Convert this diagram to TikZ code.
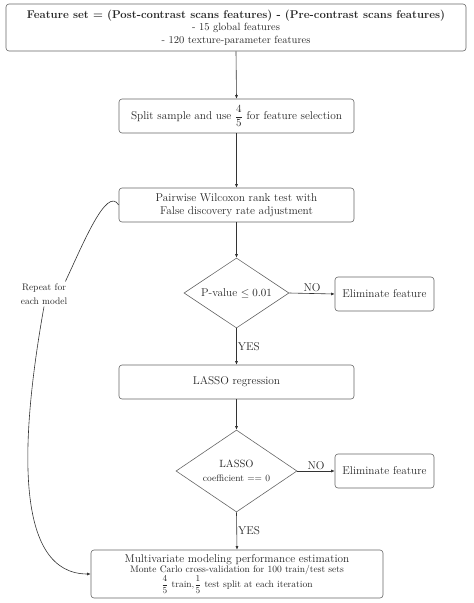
\documentclass[tikz,border=0pt]{standalone}
\usepackage{amsmath}
\usetikzlibrary{shapes.geometric,arrows.meta}
\begin{document}
\begin{tikzpicture}[x=1pt,y=-1pt,
  every node/.style={font=\fontsize{11.3}{13.5}\selectfont, text=black!85},
  box/.style={draw=black!60, line width=0.6pt, rounded corners=3pt, align=center, inner sep=0pt},
  dia/.style={draw=black!60, line width=0.6pt, diamond, aspect=1.5, inner sep=0pt, align=center},
  arr/.style={draw=black!80, line width=0.6pt, -{Latex[length=3.5pt,width=3pt]}},
  lbl/.style={inner sep=1pt}]
\useasboundingbox (0,0) rectangle (474,603);
\node[box, minimum width=460pt, minimum height=47pt] (top) at (236,27.5)
  {\textbf{Feature set = (Post-contrast scans features) - (Pre-contrast scans features)}\\[-1pt]
   {\fontsize{10.5}{12.5}\selectfont - 15 global features}\\[-1pt]
   {\fontsize{10.5}{12.5}\selectfont - 120 texture-parameter features}};
\node[box, minimum width=235pt, minimum height=34pt] (split) at (236.5,116)
  {Split sample and use $\dfrac{4}{5}$ for feature selection};
\node[box, minimum width=235pt, minimum height=34pt] (pair) at (236.5,205)
  {Pairwise Wilcoxon rank test with\\False discovery rate adjustment};
\node[dia, minimum width=105pt, minimum height=70pt] (d1) at (236.5,293)
  {P-value $\leq 0.01$};
\node[box, minimum width=99pt, minimum height=34pt] (e1) at (384.5,294) {Eliminate feature};
\node[box, minimum width=235pt, minimum height=34pt] (lasso) at (236.5,382) {LASSO regression};
\node[dia, minimum width=121pt, minimum height=82pt] (d2) at (236.5,471)
  {\fontsize{10.5}{12.5}\selectfont LASSO\\[1pt]{\fontsize{9.5}{11}\selectfont coefficient == 0}};
\node[box, minimum width=99pt, minimum height=34pt] (e2) at (384.5,471) {Eliminate feature};
\node[box, minimum width=292pt, minimum height=48pt] (multi) at (237,574)
  {Multivariate modeling performance estimation\\[-3pt]
   {\fontsize{9.5}{10}\selectfont Monte Carlo cross-validation for 100 train/test sets}\\
   {\fontsize{9.5}{10}\selectfont $\dfrac{4}{5}$ train,$\dfrac{1}{5}$ test split at each iteration}};
\node[align=center, font=\fontsize{9.5}{14}\selectfont, inner sep=2pt] (rep) at (44,294) {Repeat for\\each model};
\draw[arr] (top.south) -- (split.north);
\draw[arr] (split.south) -- (pair.north);
\draw[arr] (pair.south) -- (d1.north);
\draw[arr] (d1.east) -- node[lbl, above] {NO} (e1.west);
\draw[arr] (d1.south) -- node[lbl, right] {YES} (lasso.north);
\draw[arr] (lasso.south) -- (d2.north);
\draw[arr] (d2.east) -- node[lbl, above] {NO} (e2.west);
\draw[arr] (d2.south) -- node[lbl, right] {YES} (multi.north);
\draw[draw=black!80, line width=0.6pt] (pair.west) .. controls +(-12,-20) and +(17,-36) .. ([xshift=-4pt]rep.north east);
\draw[arr] (rep.south) .. controls +(-25,140) and +(-75,0) .. (multi.west);
\end{tikzpicture}
\end{document}
